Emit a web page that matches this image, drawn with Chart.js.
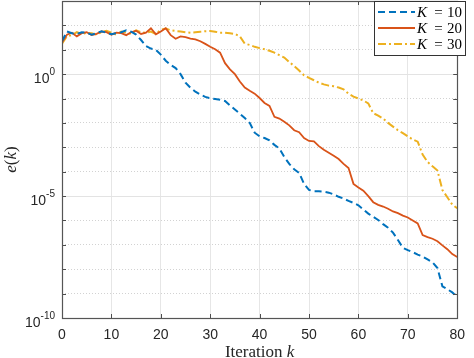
<!DOCTYPE html>
<html><head><meta charset="utf-8">
<script src="https://cdn.jsdelivr.net/npm/chart.js@4"></script>
<style>html,body{margin:0;padding:0;background:#fff;overflow:hidden;}#wrap{width:474px;height:368px;}</style>
</head><body><div id="wrap"><canvas id="c" width="474" height="368"></canvas></div>
<script>
const iterations = [0,1,2,3,4,5,6,7,8,9,10,11,12,13,14,15,16,17,18,19,20,21,22,23,24,25,26,27,28,29,30,31,32,33,34,35,36,37,38,39,40,41,42,43,44,45,46,47,48,49,50,51,52,53,54,55,56,57,58,59,60,61,62,63,64,65,66,67,68,69,70,71,72,73,74,75,76,77,78,79,80];
const errK10 = [22.4,56.2,47.9,44.7,52.5,50.1,41.7,47.9,57.5,50.1,43.7,47.9,52.5,63.1,55.0,41.7,25.1,14.1,11.2,10.0,6.31,3.55,2.40,1.78,1.00,4.47e-1,2.75e-1,1.91e-1,1.45e-1,1.17e-1,1.02e-1,9.55e-2,8.91e-2,7.94e-2,5.25e-2,3.55e-2,2.40e-2,1.58e-2,1.0e-2,3.98e-3,2.82e-3,2.40e-3,1.91e-3,1.26e-3,8.91e-4,3.98e-4,2.09e-4,1.26e-4,8.91e-5,3.16e-5,1.78e-5,1.58e-5,1.58e-5,1.51e-5,1.38e-5,1.17e-5,9.33e-6,7.94e-6,6.31e-6,5.25e-6,4.17e-6,2.82e-6,1.91e-6,1.41e-6,1.05e-6,7.08e-7,5.01e-7,3.16e-7,1.58e-7,7.59e-8,6.03e-8,5.01e-8,3.98e-8,3.31e-8,2.51e-8,1.91e-8,1.12e-8,2.00e-9,1.51e-9,1.12e-9,7.41e-10];
const errK20 = [20.0,41.7,50.1,35.5,47.9,52.5,39.8,44.7,56.2,52.5,41.7,50.1,47.9,39.8,52.5,60.3,44.7,50.1,75.9,42.7,56.2,75.9,39.8,28.2,35.5,33.1,28.8,26.9,22.4,17.4,13.2,10.5,7.59,2.82,1.58,1.00,5.01e-1,2.82e-1,2.09e-1,1.58e-1,1.05e-1,6.61e-2,5.01e-2,1.78e-2,1.51e-2,1.12e-2,7.94e-3,5.01e-3,4.17e-3,2.40e-3,1.82e-3,1.74e-3,1.12e-3,7.94e-4,6.03e-4,4.47e-4,3.31e-4,2.09e-4,1.41e-4,3.16e-5,2.24e-5,1.66e-5,1.0e-5,5.62e-6,4.37e-6,3.72e-6,3.02e-6,2.34e-6,2.00e-6,1.58e-6,1.32e-6,1.0e-6,7.59e-7,2.51e-7,2.09e-7,1.78e-7,1.41e-7,9.55e-8,6.61e-8,4.17e-8,3.16e-8];
const errK30 = [17.8,35.5,39.8,52.5,44.7,50.1,47.9,41.7,52.5,60.3,50.1,41.7,56.2,50.1,44.7,63.1,52.5,50.1,56.2,44.7,66.1,74.1,63.1,58.9,56.2,52.5,50.1,52.5,55.0,57.5,58.9,55.0,50.1,50.1,47.9,44.7,35.5,17.8,15.8,13.2,11.7,10.5,9.12,7.59,6.03,4.79,3.16,2.14,1.41,8.91e-1,7.08e-1,5.62e-1,4.47e-1,3.80e-1,3.39e-1,3.16e-1,2.82e-1,2.40e-1,1.58e-1,1.20e-1,1.00e-1,8.32e-2,6.31e-2,2.51e-2,2.00e-2,1.51e-2,1.0e-2,7.08e-3,5.01e-3,3.80e-3,2.82e-3,2.09e-3,1.70e-3,5.01e-4,2.51e-4,1.66e-4,1.12e-4,1.78e-5,8.91e-6,4.47e-6,3.16e-6];
const seriesLabels = ['K = 10','K = 20','K = 30'];
const legendValues = ['10','20','30'];
const xTickValues = [0,10,20,30,40,50,60,70,80];
const yTickValues = [1e-10,1e-9,1e-8,1e-7,1e-6,1e-5,1e-4,1e-3,1e-2,1e-1,1e0,1e1,1e2,1e3];
const yMajorTicks = [1e-10,1e-5,1e0];
const yMajorExponents = ['-10','-5','0'];
const xTitle = 'Iteration';
const xTitleVar = 'k';

const colors = ['#0072BD','#D95319','#EDB120'];
const dashes = [[7,4],[],[8,3,2,3]];
const seriesData = [errK10, errK20, errK30];

function isMajor(v){ return yMajorTicks.some(m => Math.abs(Math.log10(m) - Math.log10(v)) < 1e-6); }

const decor = {
  id: 'decor',
  afterDraw(chart){
    const ctx = chart.ctx;
    const {left, right, top, bottom} = chart.chartArea;
    const xs = chart.scales.x, ys = chart.scales.y;
    ctx.save();
    // inward ticks
    ctx.strokeStyle = '#4d4d4d'; ctx.lineWidth = 1; ctx.setLineDash([]);
    ctx.beginPath();
    xTickValues.forEach(v => {
      const px = Math.round(xs.getPixelForValue(v)) + 0.5;
      ctx.moveTo(px, bottom); ctx.lineTo(px, bottom - 4);
      ctx.moveTo(px, top); ctx.lineTo(px, top + 4);
    });
    yTickValues.forEach(v => {
      const py = Math.round(ys.getPixelForValue(v)) + 0.5;
      ctx.moveTo(left, py); ctx.lineTo(left + 4, py);
      ctx.moveTo(right, py); ctx.lineTo(right - 4, py);
    });
    ctx.stroke();
    // box
    ctx.strokeStyle = '#555'; ctx.lineWidth = 1.2;
    ctx.strokeRect(Math.round(left)+0.5, Math.round(top)+0.5, Math.round(right-left), Math.round(bottom-top));
    // y tick labels with superscripts
    ctx.fillStyle = '#262626';
    ctx.textAlign = 'right'; ctx.textBaseline = 'alphabetic';
    yMajorTicks.forEach((v, i) => {
      const py = ys.getPixelForValue(v);
      ctx.font = '10px "Liberation Sans", Arial, sans-serif';
      const ew = ctx.measureText(yMajorExponents[i]).width;
      ctx.fillText(yMajorExponents[i], 55, py + 0.5);
      ctx.font = '14px "Liberation Sans", Arial, sans-serif';
      ctx.fillText('10', 55 - ew, py + 9);
    });
    // x title
    ctx.textBaseline = 'alphabetic'; ctx.textAlign = 'left';
    ctx.font = '17px "Liberation Serif", "Times New Roman", serif';
    const w1 = ctx.measureText(xTitle + ' ').width;
    ctx.font = 'italic 17px "Liberation Serif", "Times New Roman", serif';
    const w2 = ctx.measureText(xTitleVar).width;
    const cx = (left + right) / 2;
    const sx = cx - (w1 + w2) / 2;
    ctx.font = '17px "Liberation Serif", "Times New Roman", serif';
    ctx.fillText(xTitle + ' ', sx, 357);
    ctx.font = 'italic 17px "Liberation Serif", "Times New Roman", serif';
    ctx.fillText(xTitleVar, sx + w1, 357);
    // y title e(k)
    ctx.save();
    ctx.translate(16, (top + bottom) / 2);
    ctx.rotate(-Math.PI / 2);
    const parts = [['e', true], ['(', false], ['k', true], [')', false]];
    let tw = 0;
    parts.forEach(p => { ctx.font = (p[1] ? 'italic ' : '') + '17px "Liberation Serif", serif'; tw += ctx.measureText(p[0]).width; });
    let px0 = -tw / 2;
    parts.forEach(p => { ctx.font = (p[1] ? 'italic ' : '') + '17px "Liberation Serif", serif'; ctx.fillText(p[0], px0, 0); px0 += ctx.measureText(p[0]).width; });
    ctx.restore();
    // legend
    const lx = 374, ly = Math.round(top) + 0.5, lw = 91, lh = 54;
    ctx.fillStyle = '#fff';
    ctx.fillRect(lx, ly, lw, lh);
    ctx.strokeStyle = '#333'; ctx.lineWidth = 1;
    ctx.strokeRect(lx + 0.5, ly, lw, lh);
    const baselines = [17, 33, 49];
    chart.data.datasets.forEach((ds, i) => {
      const by = baselines[i];
      ctx.strokeStyle = ds.borderColor; ctx.lineWidth = ds.borderWidth;
      ctx.setLineDash(ds.borderDash || []);
      ctx.beginPath(); ctx.moveTo(378, by - 5); ctx.lineTo(415, by - 5); ctx.stroke();
      ctx.setLineDash([]);
      ctx.fillStyle = '#000';
      ctx.textAlign = 'left';
      ctx.font = 'italic 15px "Liberation Serif", serif';
      ctx.fillText('K', 417, by);
      ctx.font = '15px "Liberation Serif", serif';
      ctx.textAlign = 'center';
      ctx.fillText('=', 438.5, by);
      ctx.textAlign = 'right';
      ctx.fillText(legendValues[i], 462, by);
    });
    ctx.restore();
  }
};

new Chart(document.getElementById('c'), {
  type: 'line',
  data: {
    datasets: seriesData.map((arr, i) => ({
      label: seriesLabels[i],
      data: iterations.map((k, j) => ({x: k, y: arr[j]})),
      borderColor: colors[i],
      borderWidth: i === 1 ? 1.8 : 2,
      borderDash: dashes[i],
      pointRadius: 0,
      fill: false,
      tension: 0
    }))
  },
  options: {
    responsive: false,
    animation: false,
    devicePixelRatio: 1,
    layout: {padding: {top: 1, right: 9, left: 0, bottom: 0}},
    plugins: {legend: {display: false}, tooltip: {enabled: false}},
    scales: {
      x: {
        type: 'linear', min: 0, max: 80,
        afterBuildTicks: s => { s.ticks = xTickValues.map(v => ({value: v})); },
        afterFit: s => { s.height = 50; },
        grid: {color: '#e6e6e6', lineWidth: 1, drawTicks: false},
        border: {display: false},
        ticks: {padding: 9, color: '#262626', autoSkip: false, maxRotation: 0,
          font: {family: '"Liberation Sans", Arial, sans-serif', size: 14}}
      },
      y: {
        type: 'logarithmic', min: 1e-10, max: 1e3,
        afterBuildTicks: s => { s.ticks = yTickValues.map(v => ({value: v})); },
        afterFit: s => { s.width = 62; },
        grid: {color: c => (c.tick && isMajor(c.tick.value)) ? '#e3e3e3' : '#d2d2d2', lineWidth: 1, drawTicks: false},
        border: {display: false, dash: c => (c.tick && !isMajor(c.tick.value)) ? [1, 2] : []},
        ticks: {display: false}
      }
    }
  },
  plugins: [decor]
});
</script></body></html>
